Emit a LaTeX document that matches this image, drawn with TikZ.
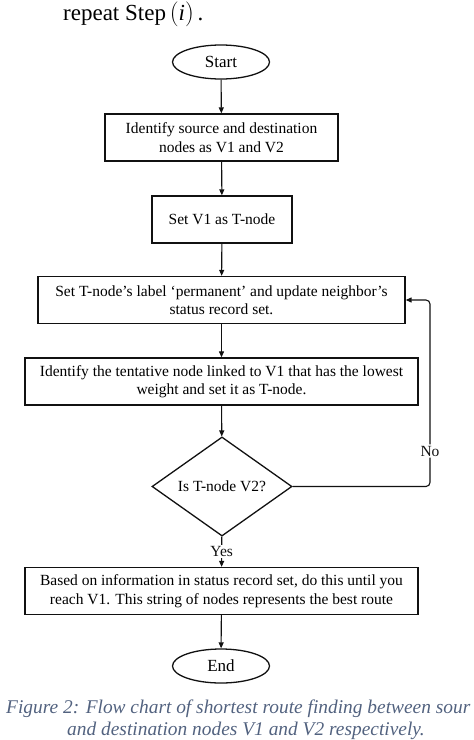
\documentclass[tikz,border=0pt]{standalone}
\usepackage{tikz}
\usepackage{xcolor}
\usepackage{fontspec}
\setmainfont{Liberation Serif}
\usetikzlibrary{shapes.geometric,arrows.meta}
\definecolor{fdark}{HTML}{111111}
\definecolor{fcaption}{HTML}{52627f}

\begin{document}
\begin{tikzpicture}[x=1pt, y=-1pt,
		box/.style={draw=fdark, line width=1.3pt, rectangle, minimum height=47pt, align=center, inner sep=0pt, font=\fontsize{15.5}{18.5}\selectfont},
		term/.style={draw=fdark, line width=1.3pt, ellipse, minimum width=97pt, minimum height=34pt, inner sep=0pt, font=\fontsize{17}{18}\selectfont},
		cond/.style={draw=fdark, line width=1.3pt, diamond, minimum width=140pt, minimum height=93pt, inner sep=0pt, font=\fontsize{15.5}{18}\selectfont},
		flow/.style={color=fdark, line width=1.1pt, -{Triangle[length=6pt,width=5pt]}},
		tag/.style={fill=white, inner sep=1.5pt, font=\fontsize{15.5}{18}\selectfont}]
	\useasboundingbox (0,0) rectangle (474,740);
	\clip (0,0) rectangle (474,740);
	\node[anchor=base west, inner sep=0pt, font=\fontsize{23}{26}\selectfont] (step) at (63,20) {repeat Step\,$\bigl(\textit{i}\bigr)$\,.};
	\node[term] (start) at (221,62) {Start};
	\node[box, minimum width=233pt] (ident) at (221.5,137.5) {Identify source and destination\\nodes as V1 and V2};
	\node[box, minimum width=140pt] (setv) at (222,219.5) {Set V1 as T-node};
	\node[box, minimum width=367pt] (perm) at (221.5,300) {Set T-node's label `permanent' and update neighbor's\\status record set.};
	\node[box, minimum width=393pt] (tent) at (221.5,381.5) {Identify the tentative node linked to V1 that has the lowest\\weight and set it as T-node.};
	\node[cond] (check) at (222,486.5) {Is T-node V2?};
	\node[box, minimum width=393pt] (best) at (221.5,591) {Based on information in status record set, do this until you\\reach V1. This string of nodes represents the best route};
	\node[term] (end) at (221,666) {End};
	\coordinate (loop) at (430,486.5);
	\draw[flow] (start) -- (ident);
	\draw[flow] (ident) -- (setv);
	\draw[flow] (setv) -- (perm);
	\draw[flow] (perm) -- (tent);
	\draw[flow] (tent) -- (check);
	\draw[flow] (check) -- node[tag] {Yes} (best);
	\draw[flow] (best) -- (end);
	\draw[flow, rounded corners=4pt] (check.east) -- (loop) |- node[tag, pos=0.095] {No} (perm.east);
	\node[anchor=base west, inner sep=0pt, color=fcaption, font=\fontsize{19.4}{22}\itshape] (capa) at (6,713) {Figure 2: Flow chart of shortest route finding between sour};
	\node[anchor=base, inner sep=0pt, color=fcaption, font=\fontsize{19.4}{22}\itshape] (capb) at (246,735) {and destination nodes V1 and V2 respectively.};
\end{tikzpicture}
\end{document}
